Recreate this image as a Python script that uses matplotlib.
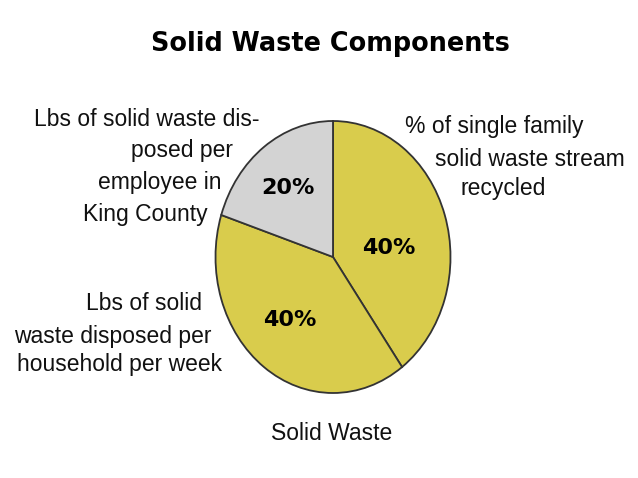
import numpy as np
import matplotlib
matplotlib.use("Agg")
import matplotlib.pyplot as plt

# Datos
valores = [40, 40, 20]
porcentajes = ["40%", "40%", "20%"]
colores = ["#d9cc4c", "#d9cc4c", "#d3d3d3"]
titulo = "Solid Waste Components"
etiqueta_pie = "Solid Waste"
lineas_recycled = ["% of single family", "solid waste stream", "recycled"]
lineas_household = ["Lbs of solid", "waste disposed per", "household per week"]
lineas_employee = ["Lbs of solid waste dis-", "posed per", "employee in", "King County"]

W, H = 638, 478
fig = plt.figure(figsize=(W / 100, H / 100), dpi=100)

# ejes para la torta (eliptica: rx=117.5 px, ry=136 px, centro 333,257)
cx, cy, rx, ry = 333, 257, 117.5, 136
ax = fig.add_axes([(cx - rx) / W, 1 - (cy + ry) / H, 2 * rx / W, 2 * ry / H])
wedges, _ = ax.pie(valores, colors=colores, startangle=90, counterclock=False,
                   wedgeprops=dict(edgecolor="#333333", linewidth=1.3))
ax.set_aspect("auto")
ax.set_xlim(-1, 1)
ax.set_ylim(-1, 1)
ax.axis("off")

# porcentajes dentro de cada porcion
lab_r = [0.48, 0.58, 0.65]
lab_shift = [-8, -3, 0]
for w, txt, r, sh in zip(wedges, porcentajes, lab_r, lab_shift):
    th = np.deg2rad((w.theta1 + w.theta2) / 2 + sh)
    ax.text(r * np.cos(th), r * np.sin(th) - 0.015, txt, ha="center", va="center",
            fontsize=16, fontweight="bold", family="DejaVu Sans")

# titulo
fig.text(330 / W, 1 - 44 / H, titulo, ha="center", va="center",
         fontsize=18.4, fontweight="bold", family="DejaVu Sans")

def lineas(textos, xs, ys, ha):
    for t, x, y in zip(textos, xs, ys):
        fig.text(x / W, 1 - y / H, t, ha=ha, va="center",
                 fontsize=16.5, family="Liberation Sans", color="#111111")

lineas(lineas_employee, [259, 233, 222, 208], [119, 151, 183, 214], "right")
lineas(lineas_household, [202, 212, 222], [304, 336, 364], "right")
lineas(lineas_recycled, [405, 435, 460], [126, 159, 188], "left")
fig.text(332 / W, 1 - 433 / H, etiqueta_pie, ha="center", va="center",
         fontsize=16.5, family="Liberation Sans", color="#111111")

fig.savefig("out.png", dpi=100)
